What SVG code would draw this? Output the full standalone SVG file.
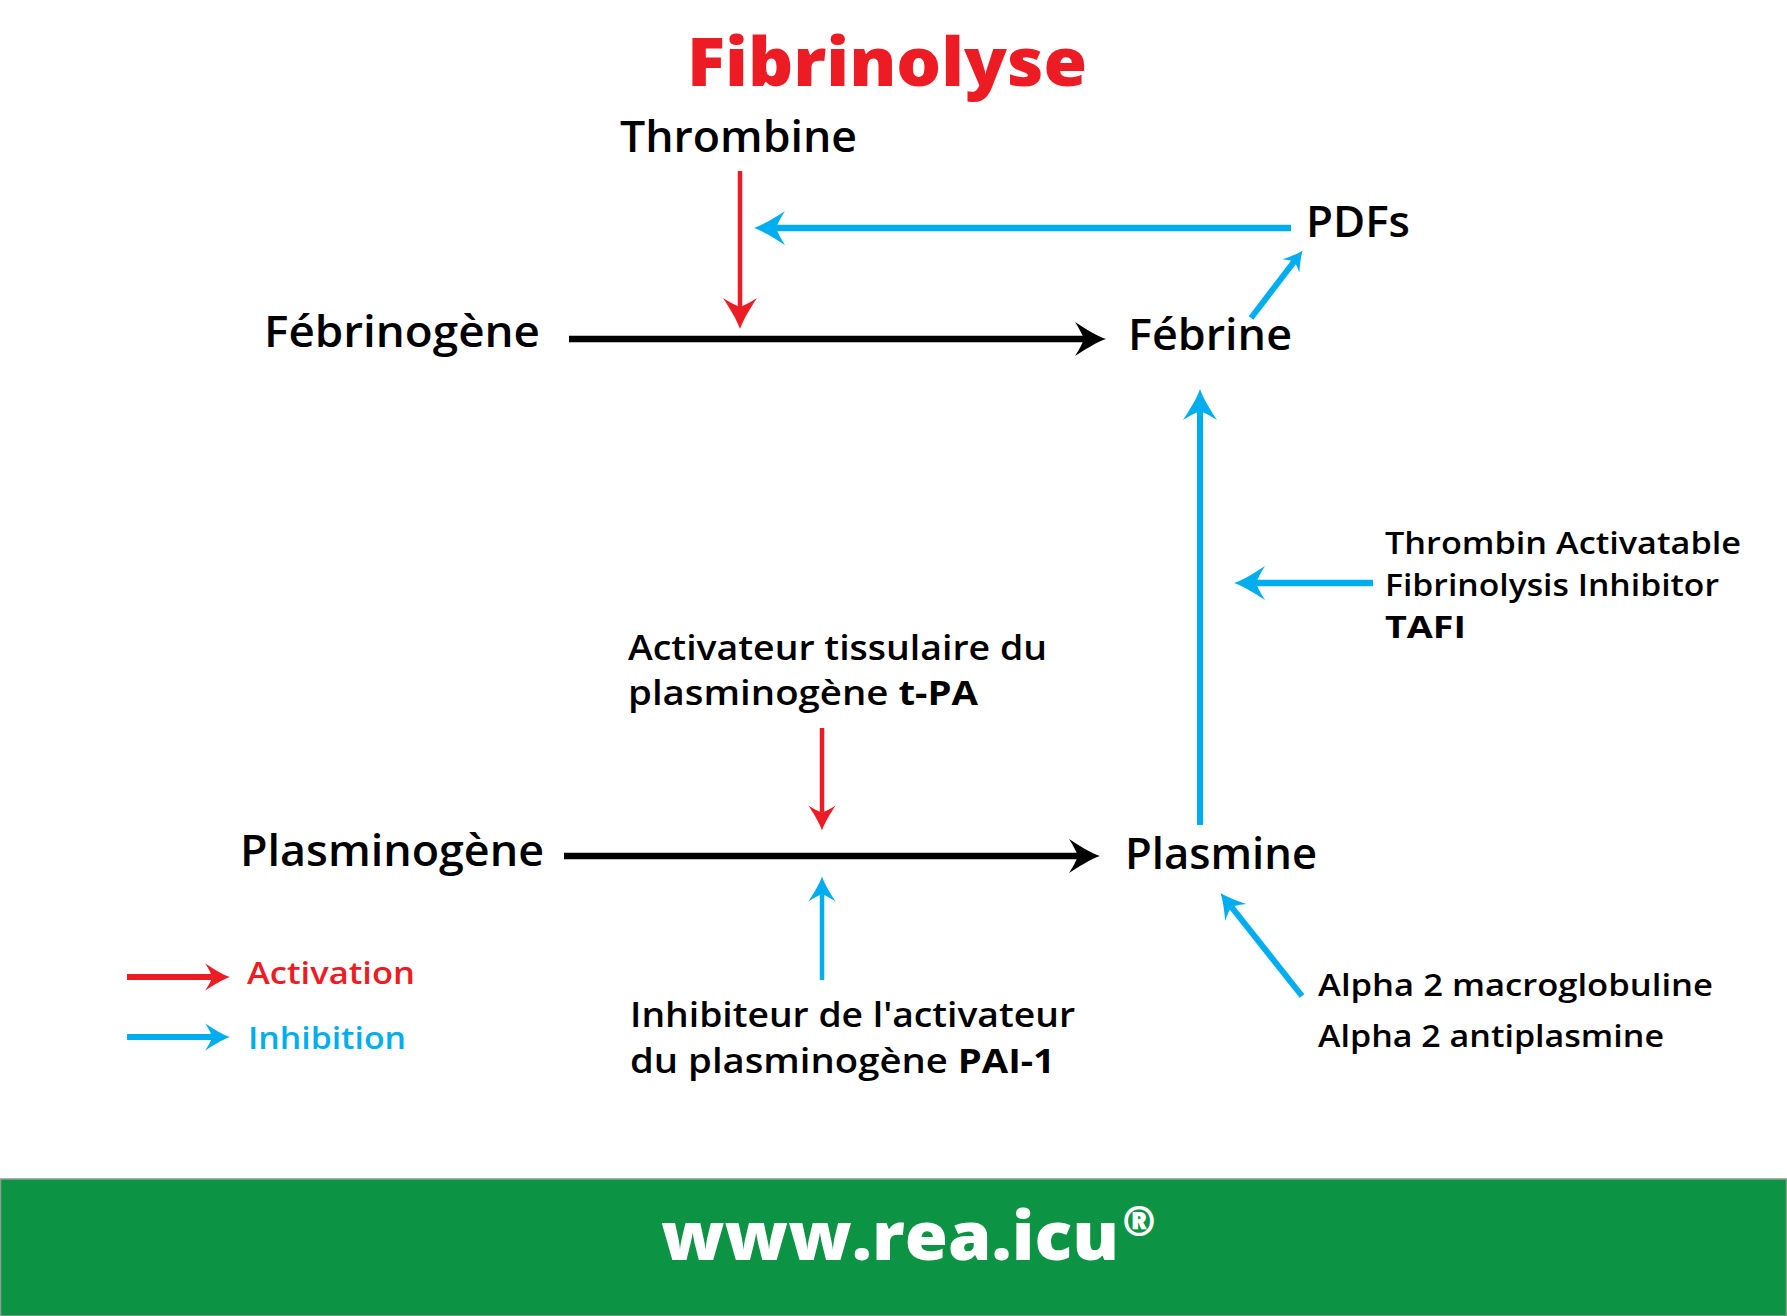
<svg xmlns="http://www.w3.org/2000/svg" width="1787" height="1316" viewBox="0 0 1787 1316">
<style>
  text { font-family: "Open Sans", "Noto Sans", "Liberation Sans", sans-serif; font-weight: 600; fill: #000; }
  .lg { font-size: 43px; }
  .md { font-size: 34px; }
  .sm { font-size: 30px; }
  .b { font-weight: 700; }
  .title { font-size: 67px; font-weight: 800; fill: #ED1C24; }
  .red { fill: #ED1C24; }
  .blue { fill: #00AEEF; }
  .foot { font-size: 68px; font-weight: 800; fill: #FFFFFF; }
  .c { fill: none; stroke-linecap: butt; }
  .cr { stroke: #ED1C24; }
  .cb { stroke: #00AEEF; }
  .ck { stroke: #000000; }
</style>
<defs>
  <path id="ah" d="M31,0 C22,-3 9,-11 0,-17 C4,-11 7,-5 9,0 C7,5 4,11 0,17 C9,11 22,3 31,0 Z"/>
  <marker id="mRedL" viewBox="-2 -20 36 40" refX="9" refY="0" markerWidth="36" markerHeight="40" markerUnits="userSpaceOnUse" orient="auto"><use href="#ah" fill="#ED1C24"/></marker>
  <marker id="mRedM" viewBox="-2 -20 36 40" refX="9" refY="0" markerWidth="28.8" markerHeight="32" markerUnits="userSpaceOnUse" orient="auto"><use href="#ah" fill="#ED1C24"/></marker>
  <marker id="mBlueL" viewBox="-2 -20 36 40" refX="9" refY="0" markerWidth="36" markerHeight="40" markerUnits="userSpaceOnUse" orient="auto"><use href="#ah" fill="#00AEEF"/></marker>
  <marker id="mBlueM" viewBox="-2 -20 36 40" refX="9" refY="0" markerWidth="28.8" markerHeight="32" markerUnits="userSpaceOnUse" orient="auto"><use href="#ah" fill="#00AEEF"/></marker>
  <marker id="mBlueS" viewBox="-2 -20 36 40" refX="9" refY="0" markerWidth="22.7" markerHeight="25.2" markerUnits="userSpaceOnUse" orient="auto"><use href="#ah" fill="#00AEEF"/></marker>
  <marker id="mBlackL" viewBox="-2 -20 36 40" refX="9" refY="0" markerWidth="36" markerHeight="40" markerUnits="userSpaceOnUse" orient="auto"><use href="#ah" fill="#000000"/></marker>
</defs>
<rect x="0" y="0" width="1787" height="1316" fill="#FFFFFF"/>

<g id="title"><text class="title" x="687" y="86" textLength="400" lengthAdjust="spacingAndGlyphs">Fibrinolyse</text></g>

<g id="connectors">
  <line class="c cr" stroke-width="4.5" x1="740" y1="171" x2="740" y2="307" marker-end="url(#mRedL)"/>
  <line class="c cb" stroke-width="6.5" x1="1291" y1="228" x2="776" y2="228" marker-end="url(#mBlueL)"/>
  <line class="c ck" stroke-width="6.5" x1="569" y1="339" x2="1084" y2="339" marker-end="url(#mBlackL)"/>
  <line class="c cb" stroke-width="6" x1="1251" y1="318" x2="1294.3" y2="261.4" marker-end="url(#mBlueS)"/>
  <line class="c cb" stroke-width="6" x1="1200" y1="825" x2="1200" y2="411" marker-end="url(#mBlueL)"/>
  <line class="c cb" stroke-width="6.5" x1="1373" y1="583" x2="1256" y2="583" marker-end="url(#mBlueL)"/>
  <line class="c ck" stroke-width="6.5" x1="564" y1="856" x2="1078" y2="856" marker-end="url(#mBlackL)"/>
  <line class="c cr" stroke-width="4.5" x1="822" y1="728" x2="822" y2="812.8" marker-end="url(#mRedM)"/>
  <line class="c cb" stroke-width="4.5" x1="822" y1="980" x2="822" y2="894.2" marker-end="url(#mBlueM)"/>
  <line class="c cb" stroke-width="6" x1="1302" y1="996" x2="1231.4" y2="906.8" marker-end="url(#mBlueM)"/>
</g>

<g id="thrombine"><text class="lg" x="620" y="152" textLength="237" lengthAdjust="spacingAndGlyphs">Thrombine</text></g>
<g id="pdfs"><text class="lg" x="1306" y="237" textLength="104" lengthAdjust="spacingAndGlyphs">PDFs</text></g>
<g id="febrinogene"><text class="lg" x="264" y="347" textLength="276" lengthAdjust="spacingAndGlyphs">Fébrinogène</text></g>
<g id="febrine"><text class="lg" x="1128" y="350" textLength="164" lengthAdjust="spacingAndGlyphs">Fébrine</text></g>
<g id="plasminogene"><text class="lg" x="240" y="866" textLength="304" lengthAdjust="spacingAndGlyphs">Plasminogène</text></g>
<g id="plasmine"><text class="lg" x="1125" y="869" textLength="192" lengthAdjust="spacingAndGlyphs">Plasmine</text></g>

<g id="tpa">
  <text class="md" x="628" y="660" textLength="419" lengthAdjust="spacingAndGlyphs">Activateur tissulaire du</text>
  <text class="md" x="628" y="705" textLength="350" lengthAdjust="spacingAndGlyphs">plasminogène <tspan class="b">t-PA</tspan></text>
</g>
<g id="pai1">
  <text class="md" x="630" y="1027" textLength="445" lengthAdjust="spacingAndGlyphs">Inhibiteur de l'activateur</text>
  <text class="md" x="630" y="1073" textLength="425" lengthAdjust="spacingAndGlyphs">du plasminogène <tspan class="b">PAI-1</tspan></text>
</g>
<g id="tafi">
  <text class="sm" x="1385" y="554" textLength="356" lengthAdjust="spacingAndGlyphs">Thrombin Activatable</text>
  <text class="sm" x="1385" y="596" textLength="334" lengthAdjust="spacingAndGlyphs">Fibrinolysis Inhibitor</text>
  <text class="sm b" x="1385" y="638" textLength="81" lengthAdjust="spacingAndGlyphs">TAFI</text>
</g>
<g id="alpha2">
  <text class="sm" x="1318" y="996" textLength="395" lengthAdjust="spacingAndGlyphs">Alpha 2 macroglobuline</text>
  <text class="sm" x="1318" y="1047" textLength="346" lengthAdjust="spacingAndGlyphs">Alpha 2 antiplasmine</text>
</g>

<g id="legend">
  <line class="c cr" stroke-width="6" x1="127" y1="977" x2="212.4" y2="977" marker-end="url(#mRedM)"/>
  <text class="sm red" x="247" y="984" textLength="168" lengthAdjust="spacingAndGlyphs">Activation</text>
  <line class="c cb" stroke-width="6" x1="127" y1="1037" x2="212.4" y2="1037" marker-end="url(#mBlueM)"/>
  <text class="sm blue" x="248" y="1049" textLength="158" lengthAdjust="spacingAndGlyphs">Inhibition</text>
</g>

<g id="footer">
  <rect x="0.5" y="1179" width="1786" height="137" fill="#0C9444" stroke="#8C9C90" stroke-width="1.5"/>
  <text class="foot" x="661" y="1260" textLength="458" lengthAdjust="spacingAndGlyphs">www.rea.icu</text>
  <text class="foot" x="1139" y="1236" text-anchor="middle" style="font-size:40px">®</text>
</g>
</svg>
